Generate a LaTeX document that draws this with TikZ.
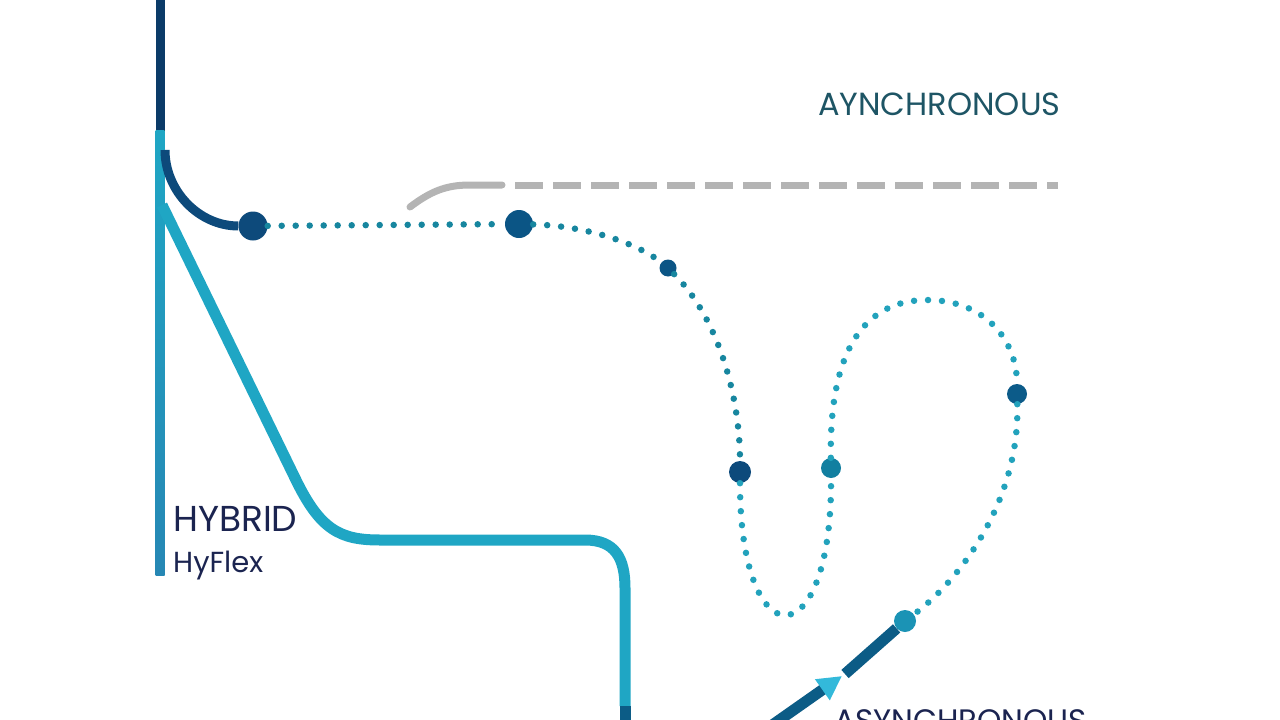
\documentclass[tikz,border=0pt]{standalone}
\usepackage{fontspec}
\setmainfont{Poppins}
\usetikzlibrary{arrows.meta}

\begin{document}
\begin{tikzpicture}[x=1pt, y=-1pt,
    stop/.style={circle, inner sep=0pt, minimum size=#1},
    dotline/.style={line width=6.5pt, line cap=round, dash pattern=on 0pt off 14pt},
    railline/.style={line width=11pt, line join=round},
    label/.style={anchor=base west, inner sep=0pt}]
        \definecolor{railnavy}{HTML}{0B3B68}
        \definecolor{arcnavy}{HTML}{0D4A7B}
        \definecolor{hyteal}{HTML}{1FA6C4}
        \definecolor{hyblue}{HTML}{2687B4}
        \definecolor{dotteal}{HTML}{17869F}
        \definecolor{dotlight}{HTML}{22A2BC}
        \definecolor{stopdark}{HTML}{0B5585}
        \definecolor{stopmid}{HTML}{127FA0}
        \definecolor{stoplight}{HTML}{1B93B5}
        \definecolor{asyncgrey}{HTML}{B4B4B4}
        \definecolor{textnavy}{HTML}{1B2450}
        \definecolor{textteal}{HTML}{1E5565}
        \definecolor{arrowdark}{HTML}{0C5C86}
        \definecolor{arrowcyan}{HTML}{33B9DA}

        \useasboundingbox (0,0) rectangle (1280,720);
        \clip (0,0) rectangle (1280,720);

        % Fixed points of the lines
        \coordinate (top) at (160,0);
        \coordinate (split) at (160,130);
        \coordinate (foot) at (160,575);
        \coordinate (arc-start) at (165,150);
        \coordinate (branch) at (162,205);
        \coordinate (bend) at (295,478);
        \coordinate (flat-start) at (380,540);
        \coordinate (flat-end) at (585,540);
        \coordinate (drop) at (625,588);
        \coordinate (drop-dark) at (625,706);
        \coordinate (drop-end) at (625,722);
        \coordinate (grey-start) at (410,207);
        \coordinate (grey-mid) at (502,185);
        \coordinate (grey-dash) at (515,185);
        \coordinate (grey-end) at (1058,185);
        \coordinate (loop-top) at (927,300);
        \coordinate (arrow-start) at (768,728);
        \coordinate (arrow-tip) at (842,676);
        \coordinate (arrow-resume) at (845,674);

        % Stops on the route
        \node[stop=29pt, fill=arcnavy] (hub) at (253,226) {};
        \node[stop=28pt, fill=stopdark] (plateau) at (519,224) {};
        \node[stop=17pt, fill=stopdark] (slope) at (668,268) {};
        \node[stop=22pt, fill=arcnavy] (dip) at (740,472) {};
        \node[stop=20pt, fill=stopmid] (rise) at (831,468) {};
        \node[stop=20pt, fill=stopdark!85!stopmid] (crest) at (1017,394) {};
        \node[stop=22pt, fill=stoplight] (exit) at (905,621) {};

        % Main vertical line
        \draw[line width=9pt, railnavy] (top) -- (split);
        \fill[top color=hyteal, bottom color=hyblue] (155.5,130) rectangle (164.5,575);

        % Navy curve into the first stop
        \draw[line width=9pt, arcnavy] (arc-start) .. controls (165,191) and (199,226) .. (hub.west);

        % Hybrid branch
        \draw[railline, hyteal] (branch) -- (bend) .. controls (320,530) and (340,540) .. (flat-start)
            -- (flat-end) .. controls (615,540) and (625,558) .. (drop) -- (drop-dark);
        \draw[line width=11pt, arrowdark] (drop-dark) -- (drop-end);

        % Grey asynchronous track
        \draw[line width=7pt, asyncgrey, line cap=round] (grey-start) .. controls (430,192) and (445,185) .. (470,185) -- (grey-mid);
        \draw[line width=7pt, asyncgrey, dash pattern=on 28pt off 10pt] (grey-dash) -- (grey-end);

        % Dotted route
        \draw[dotline, dotteal] (hub) -- (plateau);
        \draw[dotline, dotteal] (plateau) .. controls (590,226) and (640,245) .. (slope);
        \draw[dotline, dotteal] (slope) .. controls (720,320) and (740,400) .. (dip);
        \draw[dotline, dotlight] (dip) .. controls (740,660) and (832,660) .. (rise);
        \draw[dotline, dotlight] (rise) .. controls (829,345) and (868,300) .. (loop-top)
            .. controls (985,300) and (1017,340) .. (crest);
        \draw[dotline, dotlight] (crest) .. controls (1020,500) and (960,580) .. (exit);

        % Outgoing arrow
        \draw[line width=11pt, arrowdark, -{Triangle[length=24pt, width=24pt, color=arrowcyan]}] (arrow-start) -- (arrow-tip);
        \draw[line width=11pt, arrowdark] (arrow-resume) -- (exit);

        % Labels
        \node[label, text=textteal, font=\fontsize{32}{32}\selectfont] (aync) at (818,115) {AYNCHRONOUS};
        \node[label, text=textnavy, font=\fontsize{36}{36}\selectfont] (hybrid) at (173,531) {HYBRID};
        \node[label, text=textnavy, font=\fontsize{29}{29}\selectfont] (hyflex) at (173,572) {HyFlex};
        \node[label, text=textnavy, font=\fontsize{31}{31}\selectfont] (async) at (834,731) {ASYNCHRONOUS};
\end{tikzpicture}
\end{document}
